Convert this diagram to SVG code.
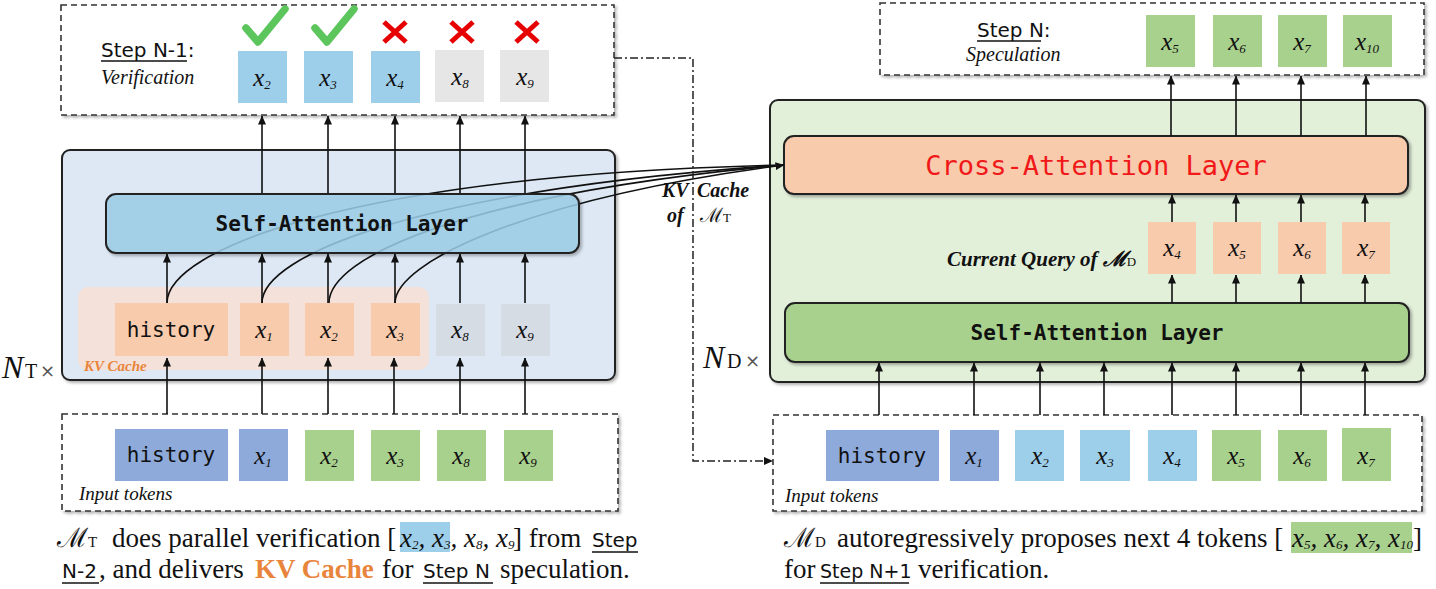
<svg xmlns="http://www.w3.org/2000/svg" width="1436" height="589" viewBox="0 0 1436 589">
<style>
.dash{fill:#fff;stroke:#333;stroke-width:1.6;stroke-dasharray:6 4}
.big{stroke:#222;stroke-width:2}
.layer{stroke:#222;stroke-width:2}
.tk{font-family:"Liberation Serif",serif;font-style:italic;font-size:25px;fill:#111;text-anchor:middle}
.sub{font-size:13px}
.mono{font-family:"DejaVu Sans Mono",monospace;fill:#111;text-anchor:middle}
.ital{font-family:"Liberation Serif",serif;font-style:italic;fill:#111}
.bi{font-family:"Liberation Serif",serif;font-style:italic;font-weight:bold;fill:#111}
.cap{font-family:"Liberation Serif","DejaVu Serif",serif;font-size:27px;fill:#111}
.kv{fill:#e8843c;font-weight:bold}
.step{font-family:"DejaVu Sans",sans-serif;fill:#111}
.arr{stroke:#111;stroke-width:1.6;fill:none;marker-end:url(#ah)}
.crv{stroke:#111;stroke-width:1.6;fill:none}
.dd{stroke:#222;stroke-width:1.5;fill:none;stroke-dasharray:8 3 2 3}
.ul{stroke:#111;stroke-width:1.5}
.blue{fill:#9ecfea}.gray{fill:#e6e6e6}.peach{fill:#f8cbad}.gb{fill:#d6dce4}.pb{fill:#8eaadb}.green{fill:#a9d18e}
</style>
<defs>
<marker id="ah" markerWidth="9" markerHeight="8" refX="8.5" refY="4" orient="auto" markerUnits="userSpaceOnUse"><path d="M0,0 L9,4 L0,8 Z" fill="#111"/></marker>
<filter id="sh" x="-5%" y="-5%" width="110%" height="115%"><feDropShadow dx="2" dy="2" stdDeviation="1.5" flood-color="#000" flood-opacity="0.3"/></filter>
</defs>

<!-- Left top: Step N-1 verification -->
<g id="verify-box">
<rect class="dash" x="61" y="5" width="553" height="110" filter="url(#sh)"/>
<text class="step" x="101" y="57" font-size="20">Step N-1:</text>
<line class="ul" x1="101" y1="61" x2="187" y2="61"/>
<text class="ital" x="101" y="84" font-size="20">Verification</text>
<rect class="blue" x="238" y="51" width="49" height="52"/>
<rect class="blue" x="304" y="51" width="49" height="52"/>
<rect class="blue" x="371" y="51" width="49" height="52"/>
<rect class="gray" x="435" y="50" width="49" height="52"/>
<rect class="gray" x="500" y="50" width="49" height="52"/>
<text class="tk" x="262" y="86">x<tspan class="sub" dy="3">2</tspan></text>
<text class="tk" x="328" y="86">x<tspan class="sub" dy="3">3</tspan></text>
<text class="tk" x="395" y="86">x<tspan class="sub" dy="3">4</tspan></text>
<text class="tk" x="460" y="85">x<tspan class="sub" dy="3">8</tspan></text>
<text class="tk" x="525" y="85">x<tspan class="sub" dy="3">9</tspan></text>
<path d="M246,28 L258,42 L285,9" fill="none" stroke="#5cc55c" stroke-width="7.5" stroke-linecap="round" stroke-linejoin="round"/>
<path d="M315,28 L327,42 L354,9" fill="none" stroke="#5cc55c" stroke-width="7.5" stroke-linecap="round" stroke-linejoin="round"/>
<path d="M384,22 L406,42 M406,22 L384,42 M451,22 L473,42 M473,22 L451,42 M516,22 L538,42 M538,22 L516,42" stroke="#e60000" stroke-width="5"/>
</g>

<!-- Left big box (target model) -->
<g id="target-model">
<rect class="big" x="62" y="150" width="553" height="230" rx="8" fill="#dde8f4" filter="url(#sh)"/>
<rect x="78" y="287" width="351" height="83" rx="10" fill="#f4e2da"/>
<text class="bi" x="84" y="371" font-size="15" style="fill:#e8843c">KV Cache</text>
<rect class="peach" x="115" y="303" width="113" height="53"/>
<rect class="peach" x="240" y="303" width="49" height="53"/>
<rect class="peach" x="305" y="303" width="49" height="53"/>
<rect class="peach" x="371" y="303" width="49" height="53"/>
<rect class="gb" x="436" y="304" width="49" height="52"/>
<rect class="gb" x="501" y="304" width="49" height="52"/>
<text class="mono" x="171" y="337" font-size="21">history</text>
<text class="tk" x="264" y="338">x<tspan class="sub" dy="3">1</tspan></text>
<text class="tk" x="329" y="338">x<tspan class="sub" dy="3">2</tspan></text>
<text class="tk" x="395" y="338">x<tspan class="sub" dy="3">3</tspan></text>
<text class="tk" x="460" y="338">x<tspan class="sub" dy="3">8</tspan></text>
<text class="tk" x="525" y="338">x<tspan class="sub" dy="3">9</tspan></text>
</g>
<g id="nt-label">
<text x="2" y="378" font-family="Liberation Serif,serif" font-size="32" font-style="italic" fill="#111">N</text>
<text x="25" y="378" font-family="Liberation Serif,serif" font-size="20" fill="#111">T</text>
<text x="40" y="377" font-family="DejaVu Sans,sans-serif" font-size="18" fill="#555">×</text>
</g>

<!-- Left bottom input -->
<g id="input-left">
<rect class="dash" x="62" y="414" width="556" height="97" filter="url(#sh)"/>
<rect class="pb" x="115" y="429" width="113" height="52"/>
<rect class="pb" x="239" y="429" width="49" height="52"/>
<rect class="green" x="305" y="430" width="49" height="51"/>
<rect class="green" x="371" y="430" width="49" height="51"/>
<rect class="green" x="437" y="430" width="49" height="51"/>
<rect class="green" x="504" y="430" width="49" height="51"/>
<text class="mono" x="171" y="462" font-size="21">history</text>
<text class="tk" x="263" y="464">x<tspan class="sub" dy="3">1</tspan></text>
<text class="tk" x="329" y="464">x<tspan class="sub" dy="3">2</tspan></text>
<text class="tk" x="395" y="464">x<tspan class="sub" dy="3">3</tspan></text>
<text class="tk" x="461" y="464">x<tspan class="sub" dy="3">8</tspan></text>
<text class="tk" x="528" y="464">x<tspan class="sub" dy="3">9</tspan></text>
<text class="ital" x="79" y="500" font-size="19">Input tokens</text>
</g>

<!-- Right top: Step N speculation -->
<g id="speculate-box">
<rect class="dash" x="880" y="3" width="544" height="72" filter="url(#sh)"/>
<text class="step" x="977" y="37" font-size="20">Step N:</text>
<line class="ul" x1="977" y1="41" x2="1041" y2="41"/>
<text class="ital" x="966" y="61" font-size="20">Speculation</text>
<rect class="green" x="1146" y="15" width="49" height="52"/>
<rect class="green" x="1213" y="15" width="49" height="52"/>
<rect class="green" x="1278" y="15" width="49" height="52"/>
<rect class="green" x="1343" y="15" width="49" height="52"/>
<text class="tk" x="1170" y="50">x<tspan class="sub" dy="3">5</tspan></text>
<text class="tk" x="1237" y="50">x<tspan class="sub" dy="3">6</tspan></text>
<text class="tk" x="1302" y="50">x<tspan class="sub" dy="3">7</tspan></text>
<text class="tk" x="1367" y="50">x<tspan class="sub" dy="3">10</tspan></text>
</g>

<!-- Right big box (draft model) -->
<g id="draft-model">
<rect class="big" x="770" y="100" width="655" height="282" rx="8" fill="#e2efd9" filter="url(#sh)"/>
</g>
<g id="cross-attention">
<rect class="layer" x="784" y="136" width="624" height="58" rx="10" fill="#f8cbad" filter="url(#sh)"/>
<text class="mono" x="1096" y="175" font-size="27" style="fill:#f01818">Cross-Attention Layer</text>
</g>
<g id="query-tokens">
<rect class="peach" x="1148" y="222" width="48" height="52"/>
<rect class="peach" x="1213" y="222" width="48" height="52"/>
<rect class="peach" x="1278" y="222" width="48" height="52"/>
<rect class="peach" x="1342" y="222" width="48" height="52"/>
<text class="tk" x="1172" y="256">x<tspan class="sub" dy="3">4</tspan></text>
<text class="tk" x="1237" y="256">x<tspan class="sub" dy="3">5</tspan></text>
<text class="tk" x="1302" y="256">x<tspan class="sub" dy="3">6</tspan></text>
<text class="tk" x="1366" y="256">x<tspan class="sub" dy="3">7</tspan></text>
<text class="bi" x="947" y="266" font-size="21">Current Query of ℳ<tspan font-size="13" font-weight="normal" font-style="normal">D</tspan></text>
</g>
<g id="draft-self-attention">
<rect class="layer" x="785" y="303" width="624" height="59" rx="10" fill="#a9d18e" filter="url(#sh)"/>
<text class="mono" x="1097" y="340" font-size="21" font-weight="bold">Self-Attention Layer</text>
</g>
<g id="nd-label">
<text x="703" y="368" font-family="Liberation Serif,serif" font-size="32" font-style="italic" fill="#111">N</text>
<text x="727" y="368" font-family="Liberation Serif,serif" font-size="20" fill="#111">D</text>
<text x="745" y="367" font-family="DejaVu Sans,sans-serif" font-size="18" fill="#555">×</text>
</g>

<!-- Right bottom input -->
<g id="input-right">
<rect class="dash" x="773" y="415" width="649" height="96" filter="url(#sh)"/>
<rect class="pb" x="826" y="430" width="113" height="51"/>
<rect class="pb" x="950" y="430" width="49" height="51"/>
<rect class="blue" x="1015" y="430" width="49" height="51"/>
<rect class="blue" x="1080" y="430" width="50" height="51"/>
<rect class="blue" x="1148" y="430" width="49" height="51"/>
<rect class="green" x="1212" y="430" width="49" height="51"/>
<rect class="green" x="1278" y="430" width="49" height="51"/>
<rect class="green" x="1342" y="428" width="49" height="53"/>
<text class="mono" x="882" y="463" font-size="21">history</text>
<text class="tk" x="974" y="464">x<tspan class="sub" dy="3">1</tspan></text>
<text class="tk" x="1040" y="464">x<tspan class="sub" dy="3">2</tspan></text>
<text class="tk" x="1105" y="464">x<tspan class="sub" dy="3">3</tspan></text>
<text class="tk" x="1172" y="464">x<tspan class="sub" dy="3">4</tspan></text>
<text class="tk" x="1236" y="464">x<tspan class="sub" dy="3">5</tspan></text>
<text class="tk" x="1302" y="464">x<tspan class="sub" dy="3">6</tspan></text>
<text class="tk" x="1366" y="464">x<tspan class="sub" dy="3">7</tspan></text>
<text class="ital" x="785" y="502" font-size="19">Input tokens</text>
</g>

<!-- Connectors -->
<g id="connectors">
<path class="arr" d="M167,414 V358"/>
<path class="arr" d="M262,414 V358"/>
<path class="arr" d="M328,414 V358"/>
<path class="arr" d="M394,414 V358"/>
<path class="arr" d="M460,414 V358"/>
<path class="arr" d="M525,414 V358"/>
<path class="arr" d="M167,303 V254"/>
<path class="arr" d="M262,303 V254"/>
<path class="arr" d="M328,303 V254"/>
<path class="arr" d="M395,303 V254"/>
<path class="arr" d="M460,303 V254"/>
<path class="arr" d="M525,303 V254"/>
<path class="arr" d="M262,194 V116"/>
<path class="arr" d="M328,194 V116"/>
<path class="arr" d="M395,194 V116"/>
<path class="arr" d="M460,194 V116"/>
<path class="arr" d="M525,194 V116"/>
<path class="crv" d="M167,303 C167,250 350,175 784,165"/>
<path class="crv" d="M262,303 C262,255 420,190 784,165"/>
<path class="crv" d="M329,303 C329,258 460,195 784,165"/>
<path class="arr" d="M395,303 C395,262 530,198 784,165"/>
<path class="dd" d="M614,58 H693 V461 H764"/>
<path d="M773,461 L764,457 L764,465 Z" fill="#111"/>
<path class="arr" d="M879,415 V363"/>
<path class="arr" d="M974,415 V363"/>
<path class="arr" d="M1040,415 V363"/>
<path class="arr" d="M1104,415 V363"/>
<path class="arr" d="M1172,415 V363"/>
<path class="arr" d="M1236,415 V363"/>
<path class="arr" d="M1301,415 V363"/>
<path class="arr" d="M1365,415 V363"/>
<path class="arr" d="M1172,303 V275"/>
<path class="arr" d="M1236,303 V275"/>
<path class="arr" d="M1301,303 V275"/>
<path class="arr" d="M1365,303 V275"/>
<path class="arr" d="M1172,222 V195"/>
<path class="arr" d="M1236,222 V195"/>
<path class="arr" d="M1301,222 V195"/>
<path class="arr" d="M1365,222 V195"/>
<path class="arr" d="M1171,136 V76"/>
<path class="arr" d="M1236,136 V76"/>
<path class="arr" d="M1301,136 V76"/>
<path class="arr" d="M1366,136 V76"/>
</g>

<!-- Left self-attention layer (over the curves) -->
<g id="target-self-attention">
<rect class="layer" x="106" y="194" width="473" height="59" rx="10" fill="#9ecfea" fill-opacity="0.82" filter="url(#sh)"/>
<text class="mono" x="342" y="231" font-size="21" font-weight="bold">Self-Attention Layer</text>
</g>

<g id="kv-label">
<text class="bi" x="662" y="197" font-size="20">KV</text>
<text class="bi" x="697" y="197" font-size="20">Cache</text>
<text class="bi" x="667" y="222" font-size="20">of</text>
<text x="700" y="222" font-family="Liberation Serif,DejaVu Serif,serif" font-size="20" fill="#111">ℳ<tspan font-size="13">T</tspan></text>
</g>

<!-- Captions -->
<g id="caption-left">
<rect x="400" y="522" width="50" height="30" fill="#9ecfea"/>
<text class="cap" x="57" y="547">ℳ<tspan font-size="15">T</tspan></text>
<text class="cap" x="112" y="547">does parallel verification [</text>
<text class="cap" x="400" y="547" font-style="italic">x<tspan font-size="13" dy="2">2</tspan><tspan dy="-2">, x</tspan><tspan font-size="13" dy="2">3</tspan><tspan dy="-2">, x</tspan><tspan font-size="13" dy="2">8</tspan><tspan dy="-2">, x</tspan><tspan font-size="13" dy="2">9</tspan></text>
<text class="cap" x="513" y="547">] from</text>
<text class="step" x="592" y="547" font-size="20">Step</text>
<line class="ul" x1="592" y1="552" x2="638" y2="552"/>
<text class="step" x="62" y="578" font-size="20">N-2</text>
<line class="ul" x1="62" y1="583" x2="99" y2="583"/>
<text class="cap" x="99" y="578">, and delivers</text>
<text class="cap kv" x="255" y="578">KV Cache</text>
<text class="cap" x="382" y="578">for</text>
<text class="step" x="423" y="578" font-size="20">Step N</text>
<line class="ul" x1="423" y1="583" x2="493" y2="583"/>
<text class="cap" x="500" y="578">speculation.</text>
</g>
<g id="caption-right">
<rect x="1291" y="522" width="121" height="31" fill="#a9d18e"/>
<text class="cap" x="784" y="547">ℳ<tspan font-size="15">D</tspan></text>
<text class="cap" x="837" y="547">autoregressively proposes next 4 tokens [</text>
<text class="cap" x="1292" y="547" font-style="italic">x<tspan font-size="13" dy="2">5</tspan><tspan dy="-2">, x</tspan><tspan font-size="13" dy="2">6</tspan><tspan dy="-2">, x</tspan><tspan font-size="13" dy="2">7</tspan><tspan dy="-2">, x</tspan><tspan font-size="13" dy="2">10</tspan></text>
<text class="cap" x="1413" y="547">]</text>
<text class="cap" x="784" y="578">for</text>
<text class="step" x="820" y="578" font-size="19">Step N+1</text>
<line class="ul" x1="820" y1="583" x2="909" y2="583"/>
<text class="cap" x="918" y="578">verification.</text>
</g>
</svg>
